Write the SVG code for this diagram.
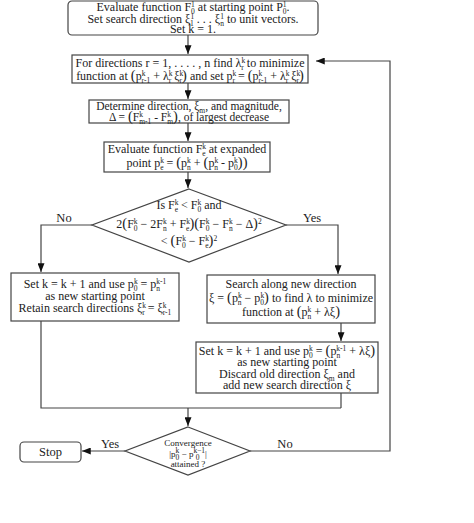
<svg xmlns="http://www.w3.org/2000/svg" width="474" height="523" viewBox="0 0 474 523">
<style>
.t{font-family:"Liberation Serif","Times New Roman",serif;font-size:12px;fill:#222;text-anchor:middle}
.l{font-family:"Liberation Serif","Times New Roman",serif;font-size:12.5px;fill:#222;text-anchor:middle}
.n{font-size:11.5px}
.sm{font-size:9px}
.sp{font-size:7.5px;baseline-shift:4.5px}
.sb{font-size:7.5px;baseline-shift:-3px}
.bp{font-size:14.5px}
.box{fill:#fff;stroke:#444;stroke-width:1.2}
.c{fill:none;stroke:#444;stroke-width:1.2}
</style>
<defs>
<marker id="ar" viewBox="0 0 10 8" refX="10" refY="4" markerWidth="9" markerHeight="7" markerUnits="userSpaceOnUse" orient="auto">
<path d="M0,0 L10,4 L0,8 z" fill="#111"/>
</marker>
</defs>
<g id="connectors">
<path class="c" d="M188,35 V54" marker-end="url(#ar)"/>
<path class="c" d="M188,83 V99" marker-end="url(#ar)"/>
<path class="c" d="M188,123 V141" marker-end="url(#ar)"/>
<path class="c" d="M188,172 V188" marker-end="url(#ar)"/>
<path class="c" d="M92,225 H41 V272" marker-end="url(#ar)"/>
<path class="c" d="M286,225 H338 V274" marker-end="url(#ar)"/>
<path class="c" d="M341,323 V341" marker-end="url(#ar)"/>
<path class="c" d="M41,321 V408 H341 M341,393 V408"/>
<path class="c" d="M188,408 V426" marker-end="url(#ar)"/>
<path class="c" d="M125,451 H82" marker-end="url(#ar)"/>
<path class="c" d="M250,451 H390 V61 H316" marker-end="url(#ar)"/>
<text class="l" x="64" y="222">No</text>
<text class="l" x="312" y="222">Yes</text>
<text class="l" x="110" y="448">Yes</text>
<text class="l" x="285" y="448">No</text>
</g>
<g id="n1">
<rect class="box" x="68" y="1" width="250" height="34" rx="4"/>
<text class="t" x="193" y="11">Evaluate function F<tspan class="sp">1</tspan><tspan class="sb" dx="-3.8">0</tspan> at starting point P<tspan class="sp">1</tspan><tspan class="sb" dx="-3.8">0</tspan>.</text>
<text class="t" x="193" y="22.5">Set search direction ξ<tspan class="sp">1</tspan><tspan class="sb" dx="-3.8">1</tspan> . . . ξ<tspan class="sp">1</tspan><tspan class="sb" dx="-3.8">n</tspan> to unit vectors.</text>
<text class="t" x="193" y="33">Set k = 1.</text>
</g>
<g id="n2">
<rect class="box" x="72" y="55" width="236" height="28"/>
<text class="t" x="190" y="67">For directions r = 1, . . . . , n find λ<tspan class="sp">k</tspan><tspan class="sb" dx="-3.8">r</tspan> to minimize</text>
<text class="t" x="190" y="79.5">function at <tspan class="bp">(</tspan>p<tspan class="sp">k</tspan><tspan class="sb" dx="-3.8">r-1</tspan> + λ<tspan class="sp">k</tspan><tspan class="sb" dx="-3.8">r</tspan> ξ<tspan class="sp">k</tspan><tspan class="sb" dx="-3.8">r</tspan><tspan class="bp">)</tspan> and set p<tspan class="sp">k</tspan><tspan class="sb" dx="-3.8">r</tspan> = <tspan class="bp">(</tspan>p<tspan class="sp">k</tspan><tspan class="sb" dx="-3.8">r-1</tspan> + λ<tspan class="sp">k</tspan><tspan class="sb" dx="-3.8">r</tspan> ξ<tspan class="sp">k</tspan><tspan class="sb" dx="-3.8">r</tspan><tspan class="bp">)</tspan></text>
</g>
<g id="n3">
<rect class="box" x="89" y="100" width="200" height="23"/>
<text class="t n" x="189" y="109.5">Determine direction, ξ<tspan class="sb">m</tspan>, and magnitude,</text>
<text class="t n" x="189" y="120.5">Δ = <tspan class="bp">(</tspan>F<tspan class="sp">k</tspan><tspan class="sb" dx="-3.8">m-1</tspan> - F<tspan class="sp">k</tspan><tspan class="sb" dx="-3.8">m</tspan><tspan class="bp">)</tspan>, of largest decrease</text>
</g>
<g id="n4">
<rect class="box" x="104" y="142" width="166" height="30"/>
<text class="t" x="187" y="153">Evaluate function F<tspan class="sp">k</tspan><tspan class="sb" dx="-3.8">e</tspan> at expanded</text>
<text class="t" x="187" y="166.5">point p<tspan class="sp">k</tspan><tspan class="sb" dx="-3.8">e</tspan> = <tspan class="bp">(</tspan>p<tspan class="sp">k</tspan><tspan class="sb" dx="-3.8">n</tspan> + <tspan class="bp">(</tspan>p<tspan class="sp">k</tspan><tspan class="sb" dx="-3.8">n</tspan> - p<tspan class="sp">k</tspan><tspan class="sb" dx="-3.8">0</tspan><tspan class="bp">))</tspan></text>
</g>
<g id="d1">
<polygon class="box" points="189,189 286,225 189,262 92,225"/>
<text class="t" x="189" y="209">Is F<tspan class="sp">k</tspan><tspan class="sb" dx="-3.8">e</tspan> &lt; F<tspan class="sp">k</tspan><tspan class="sb" dx="-3.8">0</tspan> and</text>
<text class="t" x="189" y="228">2<tspan class="bp">(</tspan>F<tspan class="sp">k</tspan><tspan class="sb" dx="-3.8">0</tspan> − 2F<tspan class="sp">k</tspan><tspan class="sb" dx="-3.8">n</tspan> + F<tspan class="sp">k</tspan><tspan class="sb" dx="-3.8">e</tspan><tspan class="bp">)(</tspan>F<tspan class="sp">k</tspan><tspan class="sb" dx="-3.8">0</tspan> − F<tspan class="sp">k</tspan><tspan class="sb" dx="-3.8">n</tspan> − Δ<tspan class="bp">)</tspan><tspan class="sp">2</tspan></text>
<text class="t" x="189" y="245">&lt; <tspan class="bp">(</tspan>F<tspan class="sp">k</tspan><tspan class="sb" dx="-3.8">0</tspan> − F<tspan class="sp">k</tspan><tspan class="sb" dx="-3.8">e</tspan><tspan class="bp">)</tspan><tspan class="sp">2</tspan></text>
</g>
<g id="n5">
<rect class="box" x="11" y="273" width="168" height="48"/>
<text class="t" x="95" y="288">Set k = k + 1 and use p<tspan class="sp">k</tspan><tspan class="sb" dx="-3.8">0</tspan> = p<tspan class="sb">n</tspan><tspan class="sp" dx="-3.8">k-1</tspan></text>
<text class="t" x="95" y="299.5">as new starting point</text>
<text class="t" x="95" y="312">Retain search directions ξ<tspan class="sp">k</tspan><tspan class="sb" dx="-3.8">r</tspan> = ξ<tspan class="sp">k</tspan><tspan class="sb" dx="-3.8">r-1</tspan></text>
</g>
<g id="n6">
<rect class="box" x="207" y="275" width="168" height="48"/>
<text class="t" x="291" y="288">Search along new direction</text>
<text class="t" x="291" y="302">ξ = <tspan class="bp">(</tspan>p<tspan class="sp">k</tspan><tspan class="sb" dx="-3.8">n</tspan> − p<tspan class="sp">k</tspan><tspan class="sb" dx="-3.8">0</tspan><tspan class="bp">)</tspan> to find λ to minimize</text>
<text class="t" x="291" y="316">function at <tspan class="bp">(</tspan>p<tspan class="sp">k</tspan><tspan class="sb" dx="-3.8">n</tspan> + λξ<tspan class="bp">)</tspan></text>
</g>
<g id="n7">
<rect class="box" x="196" y="342" width="182" height="51"/>
<text class="t" x="287" y="355">Set k = k + 1 and use p<tspan class="sp">k</tspan><tspan class="sb" dx="-3.8">0</tspan> = <tspan class="bp">(</tspan>p<tspan class="sb">n</tspan><tspan class="sp" dx="-3.8">k-1</tspan> + λξ<tspan class="bp">)</tspan></text>
<text class="t" x="287" y="366">as new starting point</text>
<text class="t" x="287" y="377.5">Discard old direction ξ<tspan class="sb">m</tspan> and</text>
<text class="t" x="287" y="389">add new search direction ξ</text>
</g>
<g id="d2">
<polygon class="box" points="188,427 250,451 188,475 125,451"/>
<text class="t sm" x="188" y="446">Convergence</text>
<text class="t sm" x="188" y="456.5">|p<tspan class="sp">k</tspan><tspan class="sb" dx="-3.8">0</tspan> − p<tspan class="sp">k−1</tspan><tspan class="sb" dx="-9.5">0</tspan><tspan dx="5.5">|</tspan></text>
<text class="t sm" x="188" y="467">attained ?</text>
</g>
<g id="stop">
<rect class="box" x="20" y="442" width="61" height="20" rx="4"/>
<text class="l" x="50.5" y="456">Stop</text>
</g>
</svg>
